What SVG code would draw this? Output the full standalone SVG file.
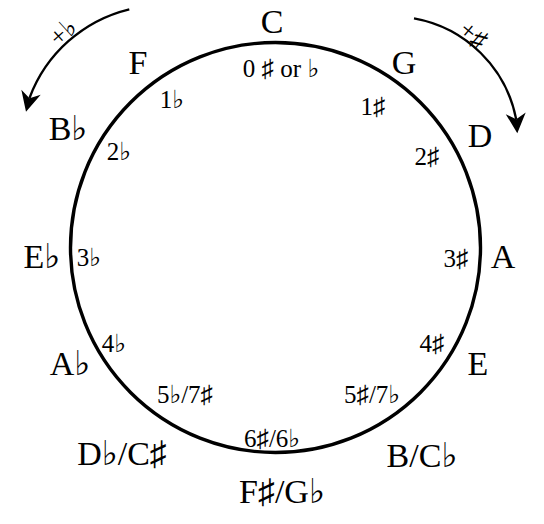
<svg xmlns="http://www.w3.org/2000/svg" width="544" height="524" viewBox="0 0 544 524">
<style>
.big{font-family:"Liberation Serif","DejaVu Sans",serif;font-size:34px;fill:#000;text-anchor:middle}
.small{font-family:"Liberation Serif","DejaVu Sans",serif;font-size:25px;fill:#000;text-anchor:middle}
.lab{font-family:"Liberation Serif","DejaVu Sans",serif;font-size:26px;fill:#000;text-anchor:middle}
.arc{fill:none;stroke:#000;stroke-width:2.3}
.head{fill:#000;stroke:none}
</style>
<rect width="544" height="524" fill="#fff"/>
<g id="circle">
<circle cx="275.5" cy="247.5" r="205" fill="none" stroke="#000" stroke-width="3.4"/>
</g>
<g id="connectors">
<path class="arc" d="M129.3,9.3 A142.3,142.3 0 0 0 29.5,98"/>
<path class="head" d="M26,111.7 L40.7,94.85 L29.5,98.15 L21.34,89.83 Z"/>
<path class="arc" d="M414,18.3 A127.1,127.1 0 0 1 516.2,119.3"/>
<path class="head" d="M517.3,133.3 L525.71,112.58 L516.21,119.34 L505.77,114.14 Z"/>
<text class="lab" transform="translate(63.5,32.5) rotate(-42)" y="8">+♭</text>
<text class="lab" transform="translate(473,35.3) rotate(40)" y="8">+♯</text>
</g>
<g id="keys">
<g id="C"><text class="big" x="272" y="33">C</text><text class="small" x="281" y="77">0 ♯ or ♭</text></g>
<g id="G"><text class="big" x="404" y="74">G</text><text class="small" x="373" y="115">1♯</text></g>
<g id="D"><text class="big" x="480" y="147">D</text><text class="small" x="427" y="165">2♯</text></g>
<g id="A"><text class="big" x="503" y="268">A</text><text class="small" x="456" y="267">3♯</text></g>
<g id="E"><text class="big" x="478" y="375">E</text><text class="small" x="432" y="352">4♯</text></g>
<g id="B"><text class="big" x="422" y="467">B/C♭</text><text class="small" x="372" y="403">5♯/7♭</text></g>
<g id="Fs"><text class="big" x="282" y="503">F♯/G♭</text><text class="small" x="272" y="447">6♯/6♭</text></g>
<g id="Db"><text class="big" x="122" y="465">D♭/C♯</text><text class="small" x="185" y="403">5♭/7♯</text></g>
<g id="Ab"><text class="big" x="70" y="375">A♭</text><text class="small" x="114" y="352">4♭</text></g>
<g id="Eb"><text class="big" x="42" y="268">E♭</text><text class="small" x="89" y="266">3♭</text></g>
<g id="Bb"><text class="big" x="68" y="140">B♭</text><text class="small" x="119" y="160">2♭</text></g>
<g id="F"><text class="big" x="138" y="74">F</text><text class="small" x="172" y="108">1♭</text></g>
</g>
</svg>
